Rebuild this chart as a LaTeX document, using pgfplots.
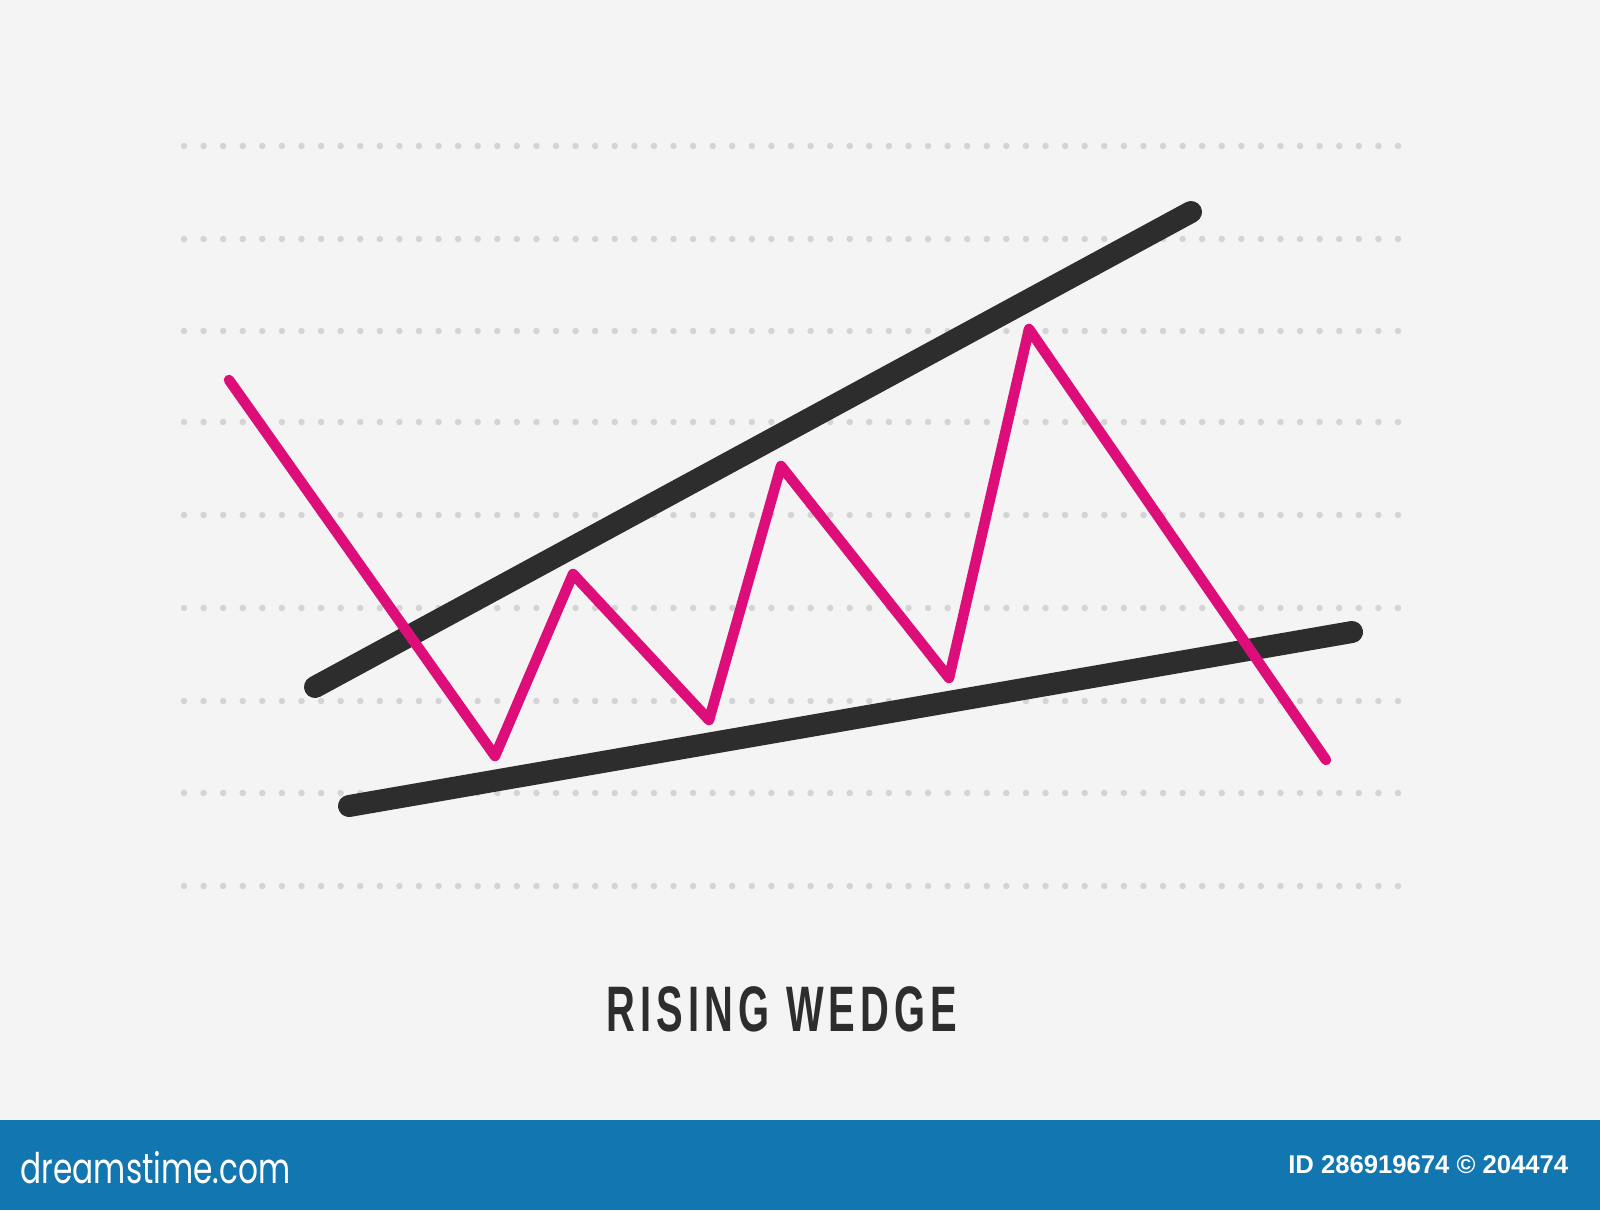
\documentclass[border=0pt]{standalone}
\usepackage{fontspec}
\usepackage{pgfplots}
\pgfplotsset{compat=1.18}
\setmainfont{Liberation Sans}
\newfontfamily\titlefont[FakeStretch=0.62,LetterSpace=8]{Liberation Sans}
\newfontfamily\logofont[FakeStretch=0.74]{Poppins}

\definecolor{bg}{RGB}{244,244,244}
\definecolor{dotgray}{RGB}{212,212,212}
\definecolor{wedge}{RGB}{45,45,45}
\definecolor{price}{RGB}{221,14,122}
\definecolor{banner}{RGB}{18,118,176}

\begin{document}
\begin{tikzpicture}
\begin{axis}[
    width=16cm, height=12.1cm,
    scale only axis,
    xmin=0, xmax=1600,
    ymin=0, ymax=1210,
    y dir=reverse,
    axis lines=none,
    ticks=none,
    clip=false,
]
% background and banner
\fill[bg] (axis cs:0,0) rectangle (axis cs:1600,1210);
\fill[banner] (axis cs:0,1120) rectangle (axis cs:1600,1210);

% dotted guide rows
\pgfplotsinvokeforeach{146,239,331,422,515,608,701,793,886}{
  \addplot[draw=dotgray, line width=0.65mm, line cap=round,
           dash pattern=on 0pt off 1.958mm]
    coordinates {(184,#1) (1398,#1)};
}

% wedge boundaries
\addplot[draw=wedge, line width=2.2mm, line cap=round]
  coordinates {(315,687) (1191,212)};
\addplot[draw=wedge, line width=2.2mm, line cap=round]
  coordinates {(349,806) (1352,632)};

% price path
\addplot[draw=price, line width=1.05mm, line cap=round, line join=round]
  coordinates {(229,380) (495,756) (573,574) (709,720) (781,466)
               (949,678) (1029,329) (1326,760)};

% labels
\node[anchor=base, text=wedge, inner sep=0pt]
  at (axis cs:782,1031) {\titlefont\bfseries\fontsize{18.3}{20}\selectfont RISING WEDGE};
\node[anchor=base west, text=white, inner sep=0pt]
  at (axis cs:20,1183) {\logofont\fontsize{12}{14}\selectfont dreamstime.com};
\node[anchor=base east, text=white, inner sep=0pt]
  at (axis cs:1569,1173) {\bfseries\fontsize{7.3}{9}\selectfont ID 286919674 \textcopyright{} 204474};
\end{axis}
\end{tikzpicture}
\end{document}
